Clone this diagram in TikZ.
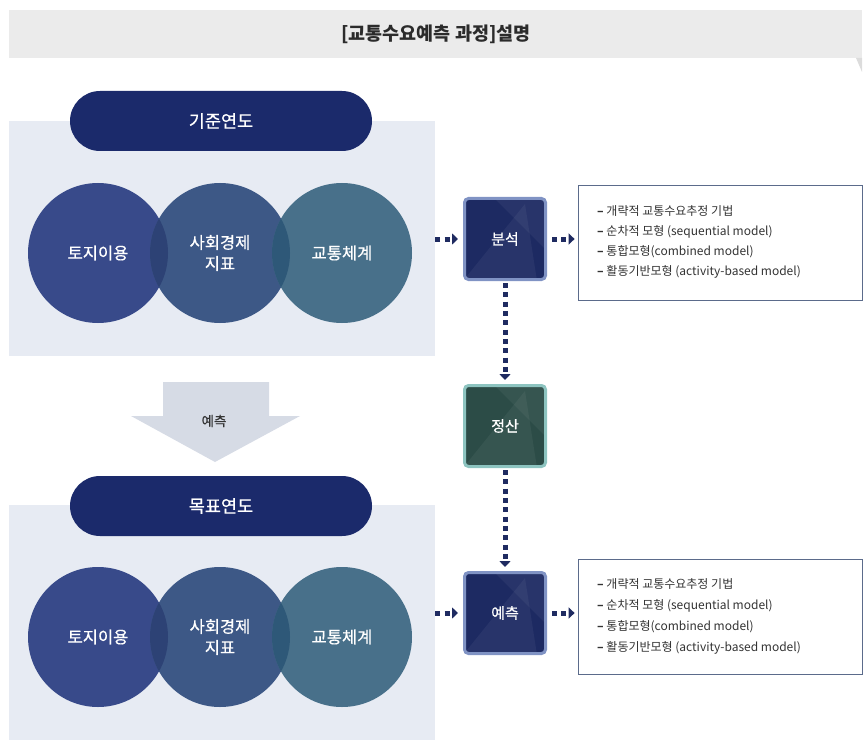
\documentclass[tikz,border=0pt]{standalone}
\usepackage{fontspec}
\setmainfont{Noto Sans CJK KR}
\newfontfamily\krmed[FakeBold=0.6]{Noto Sans CJK KR}
\usetikzlibrary{arrows.meta}
\definecolor{titlebg}{HTML}{EBEBEB}
\definecolor{titletx}{HTML}{2B2B2B}
\definecolor{foldc}{HTML}{DCDCDC}
\definecolor{panelc}{HTML}{E7EBF3}
\definecolor{pillc}{HTML}{1B2A6B}
\definecolor{circA}{HTML}{384A8A}
\definecolor{circB}{HTML}{3D5886}
\definecolor{circC}{HTML}{48708A}
\definecolor{ovAB}{HTML}{2D4275}
\definecolor{ovBC}{HTML}{2E5878}
\definecolor{navyc}{HTML}{1D2A62}
\definecolor{navyb}{HTML}{8093C4}
\definecolor{greenc}{HTML}{2C4C47}
\definecolor{greenb}{HTML}{8DC4C0}
\definecolor{dotc}{HTML}{1F2B61}
\definecolor{arrowc}{HTML}{D6DBE5}
\definecolor{listc}{HTML}{5B6B8B}
\definecolor{textc}{HTML}{333333}
\newcommand\fsz[2]{\fontsize{#1}{#2}\selectfont}
\newcommand\dsh{{\bfseries –}\ }
\begin{document}
\begin{tikzpicture}[x=1pt,y=-1pt,
  panel/.style={fill=panelc, inner sep=0, minimum width=426, minimum height=235, anchor=north west},
  pill/.style={fill=pillc, rounded corners=30, minimum width=302, minimum height=60, inner sep=0, text=white, font=\krmed\fsz{17.5}{20}},
  circ/.style={circle, minimum size=140, inner sep=0, text=white, font=\krmed\fsz{16.5}{21}, align=center},
  stepbox/.style={rectangle, rounded corners=4, line width=3, minimum size=81, inner sep=0, text=white, font=\krmed\fsz{15}{18}},
  listbox/.style={draw=listc, line width=0.8, fill=white, minimum width=284, minimum height=115, inner sep=0},
  listtext/.style={anchor=west, align=left, inner sep=0, text=textc},
  facet/.style={fill=white, fill opacity=0.05},
  dots/.style={draw=dotc, line width=5, dash pattern=on 5pt off 4.33pt, -{Triangle[length=6pt,width=11pt]}}
]
\useasboundingbox (0,0) rectangle (867,746);
% title banner
\fill[titlebg] (9,10) rectangle (862,58);
\fill[foldc] (856,58) -- (862,58) -- (862,72) -- cycle;
\node[font=\bfseries\fsz{18.5}{20}, text=titletx] (title) at (436,34) {[교통수요예측 과정]설명};

% panels
\node[panel] (pA) at (9,121) {};
\node[panel] (pB) at (9,505) {};
\node[pill] (pillA) at (221,121) {기준연도};
\node[pill] (pillB) at (221,506) {목표연도};

% circles top
\node[circ, fill=circA] (cA1) at (98,253) {토지이용};
\node[circ, fill=circB] (cA2) at (220,253) {사회경제\\지표};
\node[circ, fill=circC] (cA3) at (342,253) {교통체계};
\begin{scope}\clip (cA1.center) circle (70); \fill[ovAB] (cA2.center) circle (70);\end{scope}
\begin{scope}\clip (cA2.center) circle (70); \fill[ovBC] (cA3.center) circle (70);\end{scope}
% circles bottom
\node[circ, fill=circA] (cB1) at (98,637) {토지이용};
\node[circ, fill=circB] (cB2) at (220,637) {사회경제\\지표};
\node[circ, fill=circC] (cB3) at (342,637) {교통체계};
\begin{scope}\clip (cB1.center) circle (70); \fill[ovAB] (cB2.center) circle (70);\end{scope}
\begin{scope}\clip (cB2.center) circle (70); \fill[ovBC] (cB3.center) circle (70);\end{scope}

% down arrow
\fill[arrowc] (163,382) -- (269,382) -- (269,416) -- (300,416) -- (215,462) -- (131,416) -- (163,416) -- cycle;
\node[font=\krmed\fsz{13.5}{16}, text=textc] (pred) at (214,421) {예측};

% step boxes
\node[stepbox, fill=navyc, draw=navyb] (bA) at (505,239) {};
\node[stepbox, fill=greenc, draw=greenb] (bJ) at (505,426) {};
\node[stepbox, fill=navyc, draw=navyb] (bB) at (505,613) {};
\foreach \b in {bA,bJ,bB}{
  \begin{scope}
    \clip ([shift={(3.2,3.2)}]\b.north west) rectangle ([shift={(-3.2,-3.2)}]\b.south east);
    \fill[facet] ([shift={(30,0)}]\b.north west) -- (\b.north east) -- ([shift={(0,-30)}]\b.south east) -- cycle;
    \fill[facet] (\b.south west) -- ([shift={(20,-35)}]\b.center) -- ([shift={(-10,0)}]\b.south east) -- cycle;
  \end{scope}
}
\node[text=white, font=\krmed\fsz{15}{18}] (bAt) at (bA) {분석};
\node[text=white, font=\krmed\fsz{15}{18}] (bJt) at (bJ) {정산};
\node[text=white, font=\krmed\fsz{15}{18}] (bBt) at (bB) {예측};

% list boxes
\node[listbox] (lA) at (720,242.5) {};
\node[listbox] (lB) at (720,617) {};
\node[listtext, font=\fsz{12}{20}] (tA) at (597,242) {\dsh 개략적 교통수요추정 기법\\\dsh 순차적 모형 (sequential model)\\\dsh 통합모형(combined model)\\\dsh 활동기반모형 (activity-based model)};
\node[listtext, font=\fsz{12}{21}] (tB) at (597,616.5) {\dsh 개략적 교통수요추정 기법\\\dsh 순차적 모형 (sequential model)\\\dsh 통합모형(combined model)\\\dsh 활동기반모형 (activity-based model)};

% connectors
\draw[dots, shorten >=5pt] (pA.east |- bA.west) -- (bA.west);
\draw[dots, shorten <=5pt, shorten >=3pt] (bA.east) -- (lA.west |- bA.east);
\draw[dots, shorten <=2pt, shorten >=4pt] (bA.south) -- (bJ.north);
\draw[dots, shorten <=2pt, shorten >=4pt] (bJ.south) -- (bB.north);
\draw[dots, shorten >=5pt] (pB.east |- bB.west) -- (bB.west);
\draw[dots, shorten <=5pt, shorten >=3pt] (bB.east) -- (lB.west |- bB.east);
\end{tikzpicture}
\end{document}
